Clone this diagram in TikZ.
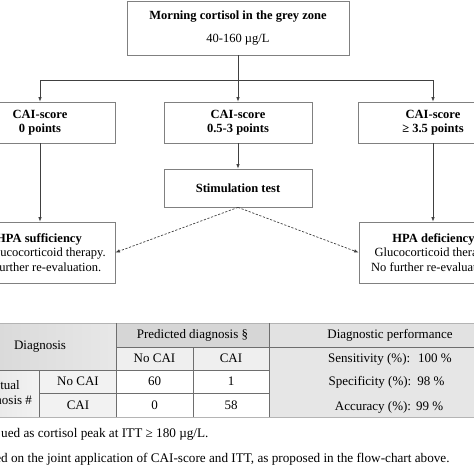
\documentclass[tikz,border=0pt]{standalone}
\usepackage{fontspec}
\setmainfont{Liberation Serif}
\usetikzlibrary{arrows.meta}
\definecolor{boxgray}{HTML}{808080}
\definecolor{conngray}{HTML}{404040}
\definecolor{tline}{HTML}{6E6E6E}
\definecolor{tlight}{HTML}{B4B4B4}
\definecolor{hdr}{HTML}{D6D6D6}
\definecolor{hdrlight}{HTML}{EFEFEF}
\definecolor{perf}{HTML}{E6E6E6}
\definecolor{perfhdr}{HTML}{E2E2E2}
\definecolor{rowlab}{HTML}{F2F2F2}
\definecolor{actual}{HTML}{E3E3E3}
\begin{document}
\begin{tikzpicture}[x=1pt,y=-1pt,
  fbox/.style={draw=boxgray, line width=0.8pt, fill=white, inner sep=0pt, align=center,
    font=\fontsize{12.5}{14.2}\selectfont},
  link/.style={draw=conngray, line width=0.7pt},
  conn/.style={link, -{Latex[length=4.5pt,width=3.5pt]}},
  dconn/.style={conn, dash pattern=on 2.2pt off 1.6pt},
  tcell/.style={inner sep=0pt, align=center, font=\fontsize{13}{15}\selectfont},
  tgrid/.style={draw=tline, line width=0.8pt},
  foot/.style={inner sep=0pt, anchor=base west, font=\fontsize{13.2}{15}\selectfont}]
\useasboundingbox (0,0) rectangle (474,474);
\fill[white] (0,0) rectangle (474,474);
\clip (0,0) rectangle (474,474);

% ---------- flow chart ----------
\node[fbox, minimum width=222pt, minimum height=54pt] (top) at (238,28)
  {\textbf{Morning cortisol in the grey zone}\\[9pt]40-160 µg/L};
\node[fbox, minimum width=150pt, minimum height=41pt] (cai1) at (40,122.5)
  {\textbf{CAI-score}\\\textbf{0 points}};
\node[fbox, minimum width=148pt, minimum height=41pt] (cai2) at (238,122.5)
  {\textbf{CAI-score}\\\textbf{0.5-3 points}};
\node[fbox, minimum width=150pt, minimum height=41pt] (cai3) at (433,122.5)
  {\textbf{CAI-score}\\\textbf{≥ 3.5 points}};
\node[fbox, minimum width=148pt, minimum height=38pt] (stim) at (238,188)
  {\textbf{Stimulation test}};
\node[fbox, minimum width=152pt, minimum height=61pt] (hpa1) at (39,252.5)
  {\textbf{HPA sufficiency}\\No glucocorticoid therapy.\\No further re-evaluation.};
\node[fbox, minimum width=149pt, minimum height=61pt] (hpa2) at (433.5,252.5)
  {\textbf{HPA deficiency}\\Glucocorticoid therapy.\\No further re-evaluation.};

\coordinate (hl) at (40,80);
\coordinate (hr) at (433,80);
\draw[conn] (top.south) -- (cai2.north);
\draw[link] (hl) -- (hr);
\draw[conn] (hl) -- (cai1.north);
\draw[conn] (hr) -- (cai3.north);
\draw[conn] (cai1.south) -- (cai1.south |- hpa1.north);
\draw[conn] (cai2.south) -- (stim.north);
\draw[conn] (cai3.south) -- (cai3.south |- hpa2.north);
\draw[dconn] (stim.south) -- (hpa1.east);
\draw[dconn] (stim.south) -- (hpa2.west);

% ---------- table ----------
\shade[left color=hdr, right color=hdrlight!70!hdr] (-36,323) rectangle (116.5,370);
\fill[hdr] (116.5,323) rectangle (269,347);
\fill[hdrlight] (116.5,347) rectangle (269,370);
\shade[left color=actual, right color=rowlab] (-36,370) rectangle (39.5,417);
\fill[rowlab] (39.5,370) rectangle (116.5,417);
\fill[white] (116.5,370) rectangle (269,417);
\fill[perfhdr] (269,323) rectangle (480,347);
\fill[perf] (269,347) rectangle (480,417);
\draw[draw=tlight, line width=0.8pt] (-36,323) -- (480,323);
\draw[draw=tlight, line width=0.8pt] (-36,417) -- (480,417);
\draw[tgrid] (116.5,347) -- (480,347);
\draw[tgrid] (-36,370) -- (269,370);
\draw[tgrid] (39.5,393.5) -- (269,393.5);
\draw[tgrid] (39.5,370) -- (39.5,417);
\draw[tgrid] (116.5,323) -- (116.5,417);
\draw[tgrid] (193,347) -- (193,417);
\draw[tgrid] (269,323) -- (269,417);
\node[tcell] (tdiag) at (40,346.5) {Diagnosis};
\node[tcell] (tpred) at (192.5,335) {Predicted diagnosis §};
\node[tcell] (tperf) at (390,335) {Diagnostic performance};
\node[tcell] (tpnocai) at (154.5,358.5) {No CAI};
\node[tcell] (tpcai) at (231,358.5) {CAI};
\node[tcell] (tactual) at (2.5,394) {Actual\\diagnosis \#};
\node[tcell] (tanocai) at (78,381.5) {No CAI};
\node[tcell] (tacai) at (78,405.5) {CAI};
\node[tcell] (v11) at (154.5,381.5) {60};
\node[tcell] (v12) at (231,381.5) {1};
\node[tcell] (v21) at (154.5,405.5) {0};
\node[tcell] (v22) at (231,405.5) {58};
\node[tcell] (sens) at (390,359.5) {Sensitivity (\%):\hspace{8pt}100 \%};
\node[tcell] (spec) at (386.5,382.5) {Specificity (\%):\hspace{6pt}98 \%};
\node[tcell] (acc) at (389,407) {Accuracy (\%):\hspace{5pt}99 \%};

% ---------- footnotes ----------
\node[foot] (f1) at (1,437) {ued as cortisol peak at ITT ≥ 180 µg/L.};
\node[foot] (f2) at (1,462) {\llap{§ Base}d on the joint application of CAI-score and ITT, as proposed in the flow-chart above.};
\end{tikzpicture}
\end{document}
